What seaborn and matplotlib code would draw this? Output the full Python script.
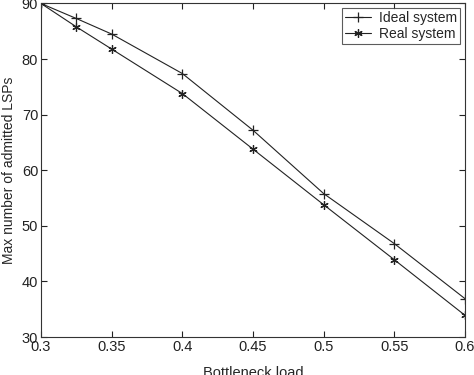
import numpy as np
import pandas as pd
import matplotlib
matplotlib.use('Agg')
import matplotlib.pyplot as plt
import seaborn as sns

# values
load = [0.3, 0.325, 0.35, 0.4, 0.45, 0.5, 0.55, 0.6]
ideal = [90, 87.3, 84.5, 77.4, 67.2, 55.8, 46.8, 36.9]
real = [90, 85.8, 81.8, 73.8, 63.8, 53.8, 43.9, 33.9]

xticks = [0.3, 0.35, 0.4, 0.45, 0.5, 0.55, 0.6]
xticklabels = ['0.3', '0.35', '0.4', '0.45', '0.5', '0.55', '0.6']
yticks = [30, 40, 50, 60, 70, 80, 90]

sns.set_style('ticks')
plt.rcParams['font.family'] = ['Liberation Sans', 'DejaVu Sans']
plt.rcParams['font.size'] = 10

df = pd.DataFrame({'load': load, 'ideal': ideal, 'real': real})

fig = plt.figure(figsize=(4.74, 3.75), dpi=100)
ax = fig.add_axes([0.0865, 0.1013, 0.8945, 0.8894])

c = '#222222'
sns.lineplot(data=df, x='load', y='ideal', ax=ax, color=c, linewidth=0.8,
             marker='+', markersize=7, markeredgewidth=0.9, markeredgecolor=c,
             label='Ideal system')
sns.lineplot(data=df, x='load', y='real', ax=ax, color=c, linewidth=0.8,
             marker=(6, 2, 0), markersize=6, markeredgewidth=0.9, markeredgecolor=c,
             label='Real system')

ax.set_xlim(0.3, 0.6)
ax.set_ylim(30, 90)
ax.set_xticks(xticks)
ax.set_xticklabels(xticklabels)
ax.set_yticks(yticks)
ax.tick_params(direction='in', length=4, width=0.8, top=True, right=True,
               labelsize=10.5, colors=c, pad=2)
for s in ax.spines.values():
    s.set_linewidth(0.8)
    s.set_color('#333333')

ax.set_xlabel('Bottleneck load', fontsize=10.5, labelpad=9)
ax.set_ylabel('Max number of admitted LSPs', fontsize=10, labelpad=4)

leg = ax.legend(loc='upper right', frameon=True, fancybox=False, edgecolor='#333333',
                fontsize=10, handlelength=1.9, borderpad=0.2, labelspacing=0.15,
                handletextpad=0.6, borderaxespad=0.35)
leg.get_frame().set_linewidth(0.8)

fig.savefig('out.png', dpi=100)
